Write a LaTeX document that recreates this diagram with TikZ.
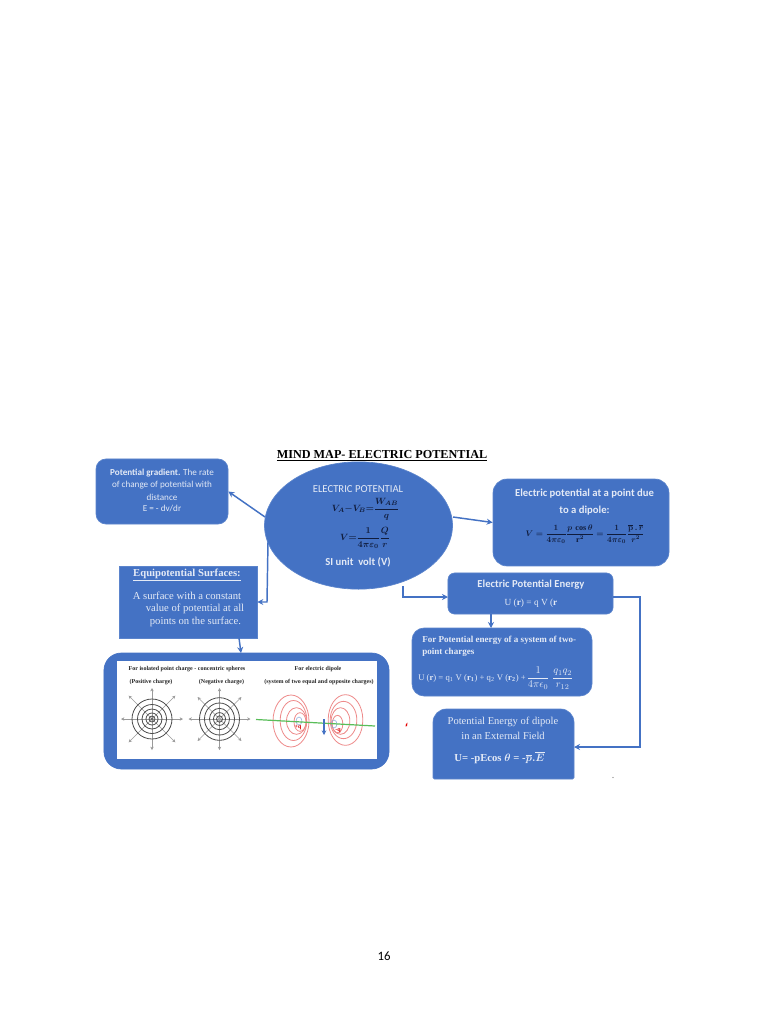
\RequirePackage{fix-cm}
\documentclass[tikz,border=0pt]{standalone}
\usepackage{amsmath,bm,graphicx}
\usepackage{fontspec}
\setmainfont{Liberation Serif}
\newfontfamily\calfam{Carlito}
\usetikzlibrary{arrows.meta,shapes.geometric,calc}
\definecolor{mapblue}{HTML}{4472C4}
\definecolor{mapedge}{HTML}{5B84CC}
\definecolor{soft}{HTML}{E4EAF6}
\definecolor{ink}{HTML}{101C3C}
\definecolor{ringred}{HTML}{EE8A8A}
\definecolor{axisgray}{HTML}{9A9A9A}
\newcommand{\fsz}[1]{\fontsize{#1}{#1}\selectfont}
\newcommand{\mf}[2]{\scalebox{#1}{\fontsize{10}{12}\selectfont\boldmath$\displaystyle #2$}}
\newcommand{\mfl}[2]{\scalebox{#1}{\fontsize{10}{12}\selectfont$\displaystyle #2$}}
\tikzset{
  x=0.75pt,y=-0.75pt,
  box/.style={fill=mapblue,draw=mapedge,line width=0.5pt},
  conn/.style={draw=mapblue,line width=1.1pt,-{Stealth[length=4.5pt,width=4.5pt]}},
  calw/.style={text=soft,inner sep=0pt,font=\calfam\fsz{#1}},
  serw/.style={text=soft,inner sep=0pt,font=\fsz{#1}},
  mth/.style={text=ink,inner sep=0pt},
  ring/.style={draw=#1,line width=0.6pt},
  ax/.style={draw=axisgray,line width=0.4pt,-{Stealth[length=2.5pt,width=2.5pt]}},
  tinylabel/.style={text=black!85,inner sep=0pt,font=\bfseries\fsz{4.5}},
}
\begin{document}
\begin{tikzpicture}
\useasboundingbox (0,0) rectangle (768,1024);
\fill[white] (0,0) rectangle (768,1024);

% title and page number
\node[inner sep=0pt,font=\bfseries\fsz{9.15}] (title) at (382,456) {\underline{MIND MAP- ELECTRIC POTENTIAL}};
\node[inner sep=0pt,font=\calfam\fsz{9.6}] (page) at (384,956) {16};

% main shapes
\node[box,ellipse,minimum width=141pt,minimum height=95.5pt,inner sep=0pt] (ell) at (358.5,525.5) {};
\node[box,rounded corners=7.5pt,minimum width=99pt,minimum height=48.8pt,inner sep=0pt] (grad) at (162,491.5) {};
\node[box,minimum width=103.5pt,minimum height=54pt,inner sep=0pt] (equi) at (188,602) {};
\node[box,rounded corners=10.5pt,minimum width=132pt,minimum height=65.2pt,inner sep=0pt] (dip) at (581,522.5) {};
\node[box,rounded corners=5pt,minimum width=123.8pt,minimum height=30.8pt,inner sep=0pt] (epe) at (530.5,593.5) {};
\node[box,rounded corners=9pt,minimum width=135pt,minimum height=51pt,inner sep=0pt] (two) at (502,662) {};
\node[box,rounded corners=13pt,minimum width=213.8pt,minimum height=87pt,inner sep=0pt,draw=mapblue] (pic) at (246.5,711) {};
\path[box] [rounded corners=1pt] (433,779) [rounded corners=10pt] -- (433,709) -- (574,709) [rounded corners=1pt] -- (574,779) -- cycle;
\coordinate (denergy) at (574,747);
\node[fill=white,minimum width=195pt,minimum height=73.5pt,inner sep=0pt] (inner) at (247,710) {};

% helper points for connectors
\coordinate (gfrom) at (265,517);
\coordinate (qfrom) at (268,542);
\coordinate (qbend) at (267,602);
\coordinate (dfrom) at (453,517);
\coordinate (efrom) at (403,586);
\coordinate (ebend) at (403,597);
\coordinate (eto) at (448,597);
\coordinate (tfrom) at (491,614);
\coordinate (tto) at (491,628);
\coordinate (ufrom) at (613,597);
\coordinate (ub1) at (640,597);
\coordinate (ub2) at (640,747);
\coordinate (pfrom) at (239,638);
\coordinate (pto) at (241,653);

% connectors
\draw[conn] (gfrom) -- (grad.east);
\draw[conn] (qfrom) -- (qbend) -- (equi.east);
\draw[conn] (dfrom) -- (dip.west);
\draw[conn] (efrom) -- (ebend) -- (eto);
\draw[conn] (tfrom) -- (tto);
\draw[conn] (ufrom) -- (ub1) -- (ub2) -- (denergy);
\draw[conn] (pfrom) -- (pto);

% ellipse text
\node[calw=8] (e1) at (358,489) {ELECTRIC POTENTIAL};
\node[mth] (e2) at (365.5,509) {\mf{0.68}{V_A{-}V_B{=}\frac{W_{AB}}{q}}};
\node[mth] (e3) at (365,538) {\mf{0.68}{V{=}\frac{1}{4\pi\varepsilon_0}\frac{Q}{r}}};
\node[calw=8] (e4) at (358,562) {\bfseries SI unit\ \ volt (V)};

% gradient text
\node[calw=6.85] (g1) at (162,473) {\textbf{Potential gradient.} The rate};
\node[calw=6.85] (g2) at (162,485) {of change of potential with};
\node[calw=6.85] (g3) at (162,497) {distance};
\node[calw=6.85] (g4) at (162,509) {E = - dv/dr};

% equipotential text
\node[serw=8,font=\bfseries\fsz{8}] (q0) at (187,575) {\underline{Equipotential Surfaces:}};
\node[serw=8] (q1) at (187,596) {A surface with a constant};
\node[serw=8] (q2) at (195,609) {value of potential at all};
\node[serw=8] (q3) at (195.5,622) {points on the surface.};

% dipole text
\node[calw=8,font=\calfam\bfseries\fsz{8}] (d1) at (584.5,494) {Electric potential at a point due};
\node[calw=8,font=\calfam\bfseries\fsz{8}] (d2) at (584.5,511) {to a dipole:};
\node[mth] (d3) at (585,534) {\mf{0.61}{V=\frac{1}{4\pi\varepsilon_0}\frac{p\,\cos\theta}{\mathrm{r}^2}=\frac{1}{4\pi\varepsilon_0}\frac{\overline{\mathbf{p}}\,\boldsymbol{.}\,\overline{r}}{r^2}}};

% energy text
\node[calw=8,font=\calfam\bfseries\fsz{8}] (p1) at (531,585) {Electric Potential Energy};
\node[serw=7] (p2) at (531,603) {U (\textbf{r}) = q V (\textbf{r}};

% two charges text
\node[serw=6.8,font=\bfseries\fsz{6.8},anchor=west] (t1) at (422,640) {For Potential energy of a system of two-};
\node[serw=6.8,font=\bfseries\fsz{6.8},anchor=west] (t2) at (422,652) {point charges};
\node[serw=6.5,anchor=west] (t3) at (418,678) {U (\textbf{r}) = q\textsubscript{1} V (\textbf{r\textsubscript{1}}) + q\textsubscript{2} V (\textbf{r\textsubscript{2}}) +};
\node[serw=7] (t4) at (550,678) {\color{soft}\mfl{0.78}{\frac{1}{4\pi\epsilon_0}\ \frac{q_1 q_2}{r_{12}}}};

% dipole energy text
\node[serw=7.9] (u1) at (503,722) {Potential Energy of dipole};
\node[serw=7.9] (u2) at (503,736) {in an External Field};
\node[serw=7.8,font=\bfseries\fsz{8}] (u3) at (499.5,758) {\color{soft}U= -pEcos $\boldsymbol{\theta}$ = -$\overline{\boldsymbol{p}}\boldsymbol{.}\overline{\boldsymbol{E}}$};

% inner picture labels
\node[tinylabel] (i1) at (187,669) {For isolated point charge - concentric spheres};
\node[tinylabel] (i2) at (151,682.5) {(Positive charge)};
\node[tinylabel] (i3) at (221.5,682.5) {(Negative charge)};
\node[tinylabel] (i4) at (318,669) {For electric dipole};
\node[tinylabel] (i5) at (319,682.5) {(system of two equal and opposite charges)};

% positive charge field
\coordinate (pc) at (152,719);
\foreach \a in {0,90,180,270} \draw[ax] (pc) -- ++(\a:31);
\foreach \a in {45,135,225,315} \draw[ax] (pc) -- ++(\a:33);
\foreach \r in {20,14.5,10,6,3} \draw[ring=black!70] (pc) circle[radius=\r*0.75pt];
\fill[black!60] (pc) circle[radius=1.2pt];

% negative charge field
\coordinate (nc) at (219.5,719);
\foreach \a in {0,45,...,315} \draw[draw=axisgray,line width=0.4pt,{Stealth[length=2.5pt,width=2.5pt]}-] (nc) ++(\a:31) -- (nc);
\foreach \r in {20,15,10,6,3} \draw[ring=black!70] (nc) ellipse[x radius=\r*0.75pt,y radius=\r*0.8pt];
\fill[black!35] (nc) circle[radius=1.2pt];

% dipole field
\draw[ring=ringred] (291,721) ellipse[x radius=13.5pt,y radius=19.5pt];
\draw[ring=ringred] (293.5,720.5) ellipse[x radius=10pt,y radius=15pt];
\draw[ring=ringred] (296.5,721) ellipse[x radius=7.5pt,y radius=10pt];
\draw[ring=ringred] (300,722) ellipse[x radius=4.5pt,y radius=7pt];
\draw[ring=ringred] (345.5,720) ellipse[x radius=13pt,y radius=19pt];
\draw[ring=ringred] (343.5,720) ellipse[x radius=10pt,y radius=14pt];
\draw[ring=ringred] (340.5,721) ellipse[x radius=7pt,y radius=10pt];
\draw[ring=ringred] (337.5,724) ellipse[x radius=4pt,y radius=6.5pt];
\draw[draw=mapedge!70,line width=0.4pt] (299,721) ellipse[x radius=2.2pt,y radius=3pt];
\draw[draw=mapedge!70,line width=0.4pt] (334,724) ellipse[x radius=2.2pt,y radius=3pt];
\draw[draw=green!60!black!65,line width=0.9pt] (256,719.5) -- (375,726);
\draw[draw=mapblue,line width=1pt,-{Stealth[length=3.5pt,width=3.5pt]}] (324,719) -- (324,735);
\node[inner sep=0pt,text=red!85!black,font=\bfseries\fsz{4.5}] (pq) at (298,727) {+q};
\node[inner sep=0pt,text=red!85!black,font=\bfseries\fsz{4.5}] (mq) at (338,731) {-q};

% stray marks
\fill[red!90!black] (406,724) -- (407.5,722.5) -- (407,726) -- (405.5,726.5) -- cycle;
\fill[black!55] (613,777.5) circle[radius=0.5pt];
\end{tikzpicture}
\end{document}
